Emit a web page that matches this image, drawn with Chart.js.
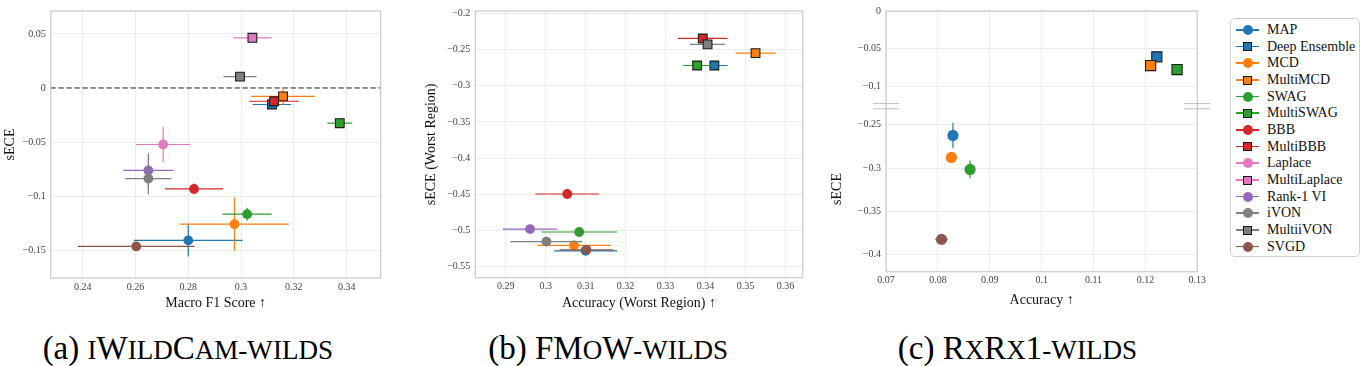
<!DOCTYPE html>
<html>
<head>
<meta charset="utf-8">
<script src="https://cdn.jsdelivr.net/npm/chart.js@4/dist/chart.umd.min.js"></script>
<style>
  html, body { margin: 0; padding: 0; background: #fff; }
  #fig { position: relative; width: 1362px; height: 366px; overflow: hidden; font-family: "Liberation Serif", serif; }
  #fig canvas { position: absolute; top: 0; }
  .cap { position: absolute; top: 332px; font-family: "Liberation Serif", serif; font-size: 33px; line-height: 33px; color: #000; white-space: nowrap; text-align: right; }
  .sc { font-size: 0.82em; text-transform: uppercase; }
  #legend { position: absolute; left: 1230px; top: 18px; width: 130px; height: 239px; box-sizing: border-box;
            border: 1px solid #cfcfcf; border-radius: 5px; background: #fff; }
  .row { position: absolute; left: 0; width: 128px; height: 16px; }
  .row .ln { position: absolute; left: 5px; top: 7px; width: 23px; height: 1.6px; }
  .row .mk { position: absolute; box-sizing: border-box; }
  .row .tx { position: absolute; left: 36px; top: -1px; font-family: "Liberation Serif", serif; font-size: 14px; line-height: 17px; color: #111; white-space: nowrap; }
</style>
</head>
<body>
<div id="fig">
  <canvas id="c1" width="392" height="312" style="left:0px"></canvas>
  <canvas id="c2" width="400" height="312" style="left:410px"></canvas>
  <canvas id="c3" width="400" height="312" style="left:815px"></canvas>
  <div id="legend"></div>
  <div class="cap" style="right:1029px">(a) <span class="sc">i</span>W<span class="sc">ild</span>C<span class="sc">am-wilds</span></div>
  <div class="cap" style="right:634px">(b) FM<span class="sc">o</span>W<span class="sc">-wilds</span></div>
  <div class="cap" style="right:225px">(c) R<span class="sc">x</span>R<span class="sc">x</span>1<span class="sc">-wilds</span></div>
</div>
<script>
(function() {
  'use strict';

  var methods = ['MAP', 'Deep Ensemble', 'MCD', 'MultiMCD', 'SWAG', 'MultiSWAG', 'BBB', 'MultiBBB',
                 'Laplace', 'MultiLaplace', 'Rank-1 VI', 'iVON', 'MultiiVON', 'SVGD'];
  var colors = ['#1f77b4', '#1f77b4', '#ff7f0e', '#ff7f0e', '#2ca02c', '#2ca02c', '#d62728', '#d62728',
                '#e377c2', '#e377c2', '#9467bd', '#7f7f7f', '#7f7f7f', '#8c564b'];
  var isMulti = [false, true, false, true, false, true, false, true, false, true, false, false, true, false];

  // (a) iWildCam: macro F1 vs sECE
  var wildcamF1     = [0.2800, 0.3117, 0.2975, 0.3159, 0.3023, 0.3374, 0.2822, 0.3125, 0.2705, 0.3043, 0.2649, 0.2649, 0.2996, 0.2603];
  var wildcamF1Err  = [0.0206, 0.0073, 0.0206, 0.0120, 0.0093, 0.0047, 0.0110, 0.0094, 0.0103, 0.0073, 0.0095, 0.0087, 0.0063, 0.0221];
  var wildcamSece   = [-0.1410, -0.0153, -0.1260, -0.0078, -0.1168, -0.0326, -0.0934, -0.0123, -0.0523, 0.0464, -0.0763, -0.0838, 0.0105, -0.1466];
  var wildcamSeceErr = [0.0150, 0.0030, 0.0247, 0.0080, 0.0060, 0.0020, 0.0050, 0.0020, 0.0165, 0.0020, 0.0160, 0.0146, 0.0010, 0.0020];

  // (b) FMoW: worst-region accuracy vs worst-region sECE
  var fmowAcc     = [0.3100, 0.3422, 0.3071, 0.3525, 0.3084, 0.3379, 0.3054, 0.3393, null, null, 0.2961, 0.3002, 0.3405, 0.3102];
  var fmowAccErr  = [0.0079, 0.0033, 0.0092, 0.0050, 0.0095, 0.0035, 0.0080, 0.0062, null, null, 0.0068, 0.0090, 0.0044, 0.0067];
  var fmowSece    = [-0.5283, -0.2719, -0.5209, -0.2548, -0.5023, -0.2719, -0.4497, -0.2345, null, null, -0.4982, -0.5155, -0.2426, -0.5269];
  var fmowSeceErr = [0.0050, 0.0020, 0.0070, 0.0020, 0.0030, 0.0020, 0.0060, 0.0040, null, null, 0.0020, 0.0040, 0.0030, 0.0030];

  // (c) RxRx1: accuracy vs sECE
  var rxrxAcc     = [0.0829, 0.1222, 0.0826, 0.1210, 0.0862, 0.1261, null, null, null, null, null, null, null, 0.0807];
  var rxrxAccErr  = [0.0005, 0.0003, 0.0003, 0.0003, 0.0008, 0.0003, null, null, null, null, null, null, null, 0.0012];
  var rxrxSece    = [-0.2623, -0.0608, -0.2877, -0.0722, -0.3016, -0.0775, null, null, null, null, null, null, null, -0.3826];
  var rxrxSeceErr = [0.0147, 0.0010, 0.0020, 0.0010, 0.0103, 0.0010, null, null, null, null, null, null, null, 0.0020];

  // tick values and labels
  var wildcamXTicks = [0.24, 0.26, 0.28, 0.30, 0.32, 0.34];
  var wildcamXLabels = ['0.24', '0.26', '0.28', '0.3', '0.32', '0.34'];
  var wildcamYTicks = [0.05, 0, -0.05, -0.1, -0.15];
  var wildcamYLabels = ['0.05', '0', '\u22120.05', '\u22120.1', '\u22120.15'];
  var fmowXTicks = [0.29, 0.30, 0.31, 0.32, 0.33, 0.34, 0.35, 0.36];
  var fmowXLabels = ['0.29', '0.3', '0.31', '0.32', '0.33', '0.34', '0.35', '0.36'];
  var fmowYTicks = [-0.2, -0.25, -0.3, -0.35, -0.4, -0.45, -0.5, -0.55];
  var fmowYLabels = ['\u22120.2', '\u22120.25', '\u22120.3', '\u22120.35', '\u22120.4', '\u22120.45', '\u22120.5', '\u22120.55'];
  var rxrxXTicks = [0.07, 0.08, 0.09, 0.10, 0.11, 0.12, 0.13];
  var rxrxXLabels = ['0.07', '0.08', '0.09', '0.1', '0.11', '0.12', '0.13'];
  var rxrxYTopTicks = [0, -0.05, -0.1];
  var rxrxYTopLabels = ['0', '\u22120.05', '\u22120.1'];
  var rxrxYBottomTicks = [-0.25, -0.3, -0.35, -0.4];
  var rxrxYBottomLabels = ['\u22120.25', '\u22120.3', '\u22120.35', '\u22120.4'];

  var SERIF = '"Liberation Serif", "Times New Roman", serif';
  var GRID = '#ebebeb';
  var FRAME = '#c9c9c9';

  var errorBarPlugin = {
    id: 'errorBars',
    beforeDatasetDraw: function(chart, args) {
      var meta = args.meta;
      var ds = chart.data.datasets[args.index];
      var xs = chart.scales[meta.xAxisID];
      var ys = chart.scales[meta.yAxisID];
      var ctx = chart.ctx;
      ctx.save();
      ctx.strokeStyle = ds.errColor;
      ctx.lineWidth = 1.2;
      ds.data.forEach(function(p) {
        var px = xs.getPixelForValue(p.x);
        var py = ys.getPixelForValue(p.y);
        ctx.beginPath();
        if (p.xErr) {
          ctx.moveTo(xs.getPixelForValue(p.x - p.xErr), py);
          ctx.lineTo(xs.getPixelForValue(p.x + p.xErr), py);
        }
        if (p.yErr) {
          ctx.moveTo(px, ys.getPixelForValue(p.y - p.yErr));
          ctx.lineTo(px, ys.getPixelForValue(p.y + p.yErr));
        }
        ctx.stroke();
      });
      ctx.restore();
    }
  };

  var framePlugin = {
    id: 'frame',
    beforeDatasetsDraw: function(chart, args, opts) {
      var a = chart.chartArea;
      var ctx = chart.ctx;
      ctx.save();
      if (opts.zeroLine) {
        var y0 = chart.scales.y.getPixelForValue(0);
        ctx.strokeStyle = '#222';
        ctx.lineWidth = 1.1;
        ctx.setLineDash([5, 3]);
        ctx.beginPath();
        ctx.moveTo(a.left, y0);
        ctx.lineTo(a.right, y0);
        ctx.stroke();
        ctx.setLineDash([]);
      }
      ctx.strokeStyle = FRAME;
      ctx.lineWidth = 1.2;
      ctx.strokeRect(a.left, a.top, a.right - a.left, a.bottom - a.top);
      if (opts.breakMarks) {
        var yb = chart.scales.y.bottom;
        ctx.lineWidth = 1;
        ctx.strokeStyle = '#bdbdbd';
        [a.left, a.right].forEach(function(xe) {
          ctx.beginPath();
          ctx.moveTo(xe - 13, yb - 2.6); ctx.lineTo(xe + 13, yb - 2.6);
          ctx.moveTo(xe - 13, yb + 2.6); ctx.lineTo(xe + 13, yb + 2.6);
          ctx.stroke();
        });
      }
      ctx.restore();
    }
  };

  function tickFont() { return { family: SERIF, size: 10 }; }

  function xAxis(min, max, tickVals, tickLabels, title, height, titlePad) {
    return {
      type: 'linear', position: 'bottom', min: min, max: max,
      afterBuildTicks: function(s) { s.ticks = tickVals.map(function(v) { return { value: v }; }); },
      afterFit: function(s) { s.height = height; },
      grid: { color: GRID, lineWidth: 1, drawTicks: false },
      border: { display: false },
      ticks: {
        padding: 3, color: '#444', font: tickFont(), maxRotation: 0, autoSkip: false,
        callback: function(v, i) { return tickLabels[i]; }
      },
      title: { display: true, text: title, color: '#111', font: { family: SERIF, size: 14 }, padding: { top: 0, bottom: titlePad } }
    };
  }

  function yAxis(min, max, tickVals, tickLabels, title, width, titlePad) {
    return {
      type: 'linear', position: 'left', min: min, max: max,
      afterBuildTicks: function(s) { s.ticks = tickVals.map(function(v) { return { value: v }; }); },
      afterFit: function(s) { s.width = width; },
      grid: { color: GRID, lineWidth: 1, drawTicks: false },
      border: { display: false },
      ticks: {
        padding: 5, color: '#444', font: tickFont(), autoSkip: false,
        callback: function(v, i) { return tickLabels[i]; }
      },
      title: { display: !!title, text: title || '', color: '#111', font: { family: SERIF, size: 14 }, padding: { top: titlePad, bottom: 0 } }
    };
  }

  function buildDatasets(xs, xErr, ys, yErr, big, yIdFor) {
    var out = [];
    methods.forEach(function(name, i) {
      if (xs[i] === null) return;
      var multi = isMulti[i];
      out.push({
        label: name,
        data: [{ x: xs[i], y: ys[i], xErr: xErr[i], yErr: yErr[i] }],
        errColor: colors[i],
        pointStyle: multi ? 'rect' : 'circle',
        pointRadius: multi ? (big ? 7.2 : 6.2) : (big ? 5.6 : 4.9),
        backgroundColor: colors[i],
        borderColor: multi ? '#1a1a1a' : colors[i],
        borderWidth: multi ? 1.1 : 0,
        showLine: false,
        order: 20 - i,
        yAxisID: yIdFor ? yIdFor(i) : 'y'
      });
    });
    return out;
  }

  function baseOptions(padding, scales, frameOpts) {
    return {
      responsive: false,
      devicePixelRatio: 1,
      animation: false,
      events: [],
      layout: { padding: padding },
      scales: scales,
      plugins: { legend: { display: false }, tooltip: { enabled: false }, frame: frameOpts }
    };
  }

  // (a) iWildCam
  new Chart(document.getElementById('c1').getContext('2d'), {
    type: 'scatter',
    data: { datasets: buildDatasets(wildcamF1, wildcamF1Err, wildcamSece, wildcamSeceErr, false) },
    options: baseOptions({ top: 2.7, right: 11.3, left: 0, bottom: 0 }, {
      x: xAxis(0.2279, 0.3529, wildcamXTicks, wildcamXLabels, 'Macro F1 Score \u2191', 34, 0.6),
      y: yAxis(-0.1758, 0.0712, wildcamYTicks, wildcamYLabels, 'sECE', 50.7, 1.6)
    }, { zeroLine: true }),
    plugins: [framePlugin, errorBarPlugin]
  });

  // (b) FMoW
  new Chart(document.getElementById('c2').getContext('2d'), {
    type: 'scatter',
    data: { datasets: buildDatasets(fmowAcc, fmowAccErr, fmowSece, fmowSeceErr, false) },
    options: baseOptions({ top: 4.7, right: 6.7, left: 0, bottom: 0 }, {
      x: xAxis(0.2824, 0.3643, fmowXTicks, fmowXLabels, 'Accuracy (Worst Region) \u2191', 34.3, 0.6),
      y: yAxis(-0.5655, -0.1965, fmowYTicks, fmowYLabels, 'sECE (Worst Region)', 65.3, 12.6)
    }, {}),
    plugins: [framePlugin, errorBarPlugin]
  });

  // (c) RxRx1 with a broken y axis: two stacked y scales
  var yTop = yAxis(-0.126, 0, rxrxYTopTicks, rxrxYTopLabels, null, 71, 0);
  yTop.stack = 'rx'; yTop.stackWeight = 95.3; yTop.weight = 2;
  var yBottom = yAxis(-0.42, -0.2284, rxrxYBottomTicks, rxrxYBottomLabels, 'sECE', 71, 13.6);
  yBottom.stack = 'rx'; yBottom.stackWeight = 165.7; yBottom.weight = 1;

  new Chart(document.getElementById('c3').getContext('2d'), {
    type: 'scatter',
    data: {
      datasets: buildDatasets(rxrxAcc, rxrxAccErr, rxrxSece, rxrxSeceErr, true, function(i) {
        return isMulti[i] ? 'y' : 'y2';
      })
    },
    options: baseOptions({ top: 10.7, right: 17.7, left: 0, bottom: 0 }, {
      x: xAxis(0.07, 0.13, rxrxXTicks, rxrxXLabels, 'Accuracy \u2191', 40.3, 3.6),
      y: yTop,
      y2: yBottom
    }, { breakMarks: true }),
    plugins: [framePlugin, errorBarPlugin]
  });

  // legend (HTML)
  var legend = document.getElementById('legend');
  methods.forEach(function(name, i) {
    var row = document.createElement('div');
    row.className = 'row';
    row.style.top = (3 + i * 16.67) + 'px';
    var ln = document.createElement('div');
    ln.className = 'ln';
    ln.style.background = colors[i];
    var mk = document.createElement('div');
    mk.className = 'mk';
    mk.style.background = colors[i];
    if (isMulti[i]) {
      mk.style.width = '9px'; mk.style.height = '9px';
      mk.style.left = '12px'; mk.style.top = '3.5px';
      mk.style.border = '1px solid #1a1a1a';
    } else {
      mk.style.width = '10px'; mk.style.height = '10px';
      mk.style.left = '11.5px'; mk.style.top = '3px';
      mk.style.borderRadius = '50%';
    }
    var tx = document.createElement('div');
    tx.className = 'tx';
    tx.textContent = name;
    row.appendChild(ln);
    row.appendChild(mk);
    row.appendChild(tx);
    legend.appendChild(row);
  });
})();
</script>
</body>
</html>
